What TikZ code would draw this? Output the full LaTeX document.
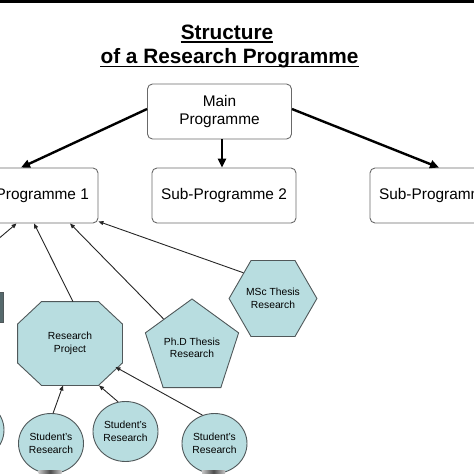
\documentclass[tikz,border=0pt]{standalone}
\usepackage{fontspec}
\setmainfont{Liberation Sans}
\usetikzlibrary{shapes.geometric,arrows.meta,calc,backgrounds}
\definecolor{shapefill}{RGB}{184,221,224}
\definecolor{shapeedge}{RGB}{80,88,90}
\definecolor{boxedge}{RGB}{105,105,105}
\definecolor{darkpart}{RGB}{85,105,108}
\begin{document}
\begin{tikzpicture}[x=1pt,y=-1pt,
  box/.style={draw=boxedge, line width=0.9pt, rounded corners=5pt, minimum width=144pt, minimum height=55pt, align=center, inner sep=0pt, font=\fontsize{15.4}{18.5}\selectfont},
  shp/.style={draw=shapeedge, fill=shapefill, line width=0.9pt, align=center, inner sep=0pt, font=\fontsize{10.3}{12.4}\selectfont},
  ttl/.style={anchor=base, inner sep=0pt, font=\fontsize{20.8}{25}\selectfont\bfseries},
  uline/.style={line width=1.4pt},
  big/.style={line width=2.4pt, -{Triangle[length=9pt,width=8pt]}},
  thin/.style={line width=0.9pt, draw=black!85, -{Triangle[length=5pt,width=4pt]}},
  strip/.style={left color=gray!45, right color=gray!45, middle color=gray!60!black, minimum width=23pt, minimum height=5pt, inner sep=0pt}]
\useasboundingbox (0,0) rectangle (474,474);
\clip (0,0) rectangle (474,474);
\fill[black] (0,0) rectangle (474,3);

% title
\node[ttl] (t1) at (227,39.3) {Structure};
\node[ttl] (t2) at (229.5,63.3) {of a Research Programme};
\draw[uline] ([yshift=-2.8pt]t1.base west) -- ([yshift=-2.8pt]t1.base east);
\draw[uline] ([yshift=-3.4pt]t2.base west) -- ([yshift=-3.4pt]t2.base east);

% boxes
\node[box, minimum width=144pt] (main) at (219.5,111.5) {Main\\Programme};
\node[box] (sp1) at (26,195.5) {Sub-Programme 1};
\node[box] (sp2) at (224,195.5) {Sub-Programme 2};
\node[box] (sp3) at (442,195.5) {Sub-Programme 3};

% research shapes
\node[shp, draw=none, fill=none, minimum width=104pt, minimum height=83pt] (rp) at (70,343.5) {Research\\Project};
\begin{scope}[on background layer]
\draw[draw=shapeedge, fill=shapefill, line width=0.9pt]
  ($(rp.north west)+(24,0)$) -- ($(rp.north east)+(-24,0)$) --
  ($(rp.north east)+(0,22.5)$) -- ($(rp.south east)+(0,-22.5)$) --
  ($(rp.south east)+(-24,0)$) -- ($(rp.south west)+(24,0)$) --
  ($(rp.south west)+(0,-22.5)$) -- ($(rp.north west)+(0,22.5)$) -- cycle;
\end{scope}
\node[shp, regular polygon, regular polygon sides=5, minimum size=82pt] (phd) at (192,348) {Ph.D Thesis\\Research};
\node[shp, regular polygon, regular polygon sides=6, minimum size=72pt] (msc) at (273,298.5) {MSc Thesis\\Research};
\node[shp, ellipse, minimum width=65pt, minimum height=60pt] (s1) at (51,443.5) {Student's\\Research};
\node[shp, ellipse, minimum width=65pt, minimum height=60pt] (s2) at (125.5,431.5) {Student's\\Research};
\node[shp, ellipse, minimum width=65pt, minimum height=60pt] (s3) at (214.5,443.5) {Student's\\Research};

% partial shapes at the edges
\node[fill=darkpart, draw=shapeedge, minimum width=30pt, minimum height=30pt, inner sep=0pt] (lp) at (-12,307) {};
\node[shp, ellipse, minimum width=64pt, minimum height=60pt] (ls) at (-28,430) {};
\node[strip] (b1) at (50,473) {};
\node[strip] (b3) at (213.5,473) {};

% thick connectors
\draw[big] ($(main.west)+(0,-2.5)$) -- ($(sp1.north)+(-5,0)$);
\draw[big] ($(main.south)+(2.5,0)$) -- ($(sp2.north)+(-2,0)$);
\draw[big] ($(main.east)+(0,-2.5)$) -- ($(sp3.north)+(-3,0)$);

% thin connectors
\coordinate (c1) at (-10,246);
\draw[thin] (c1) -- ($(sp1.south west)+(63,0)$);
\draw[thin] ($(rp.north)+(3,0)$) -- ($(sp1.south)+(8,0)$);
\draw[thin] (phd) -- ($(sp1.south)+(44,0)$);
\draw[thin] (msc.139) -- ($(sp1.south east)+(0,-2)$);
\draw[thin] (s1.86) -- ($(rp.south)+(-7,0)$);
\draw[thin] (s2.104) -- ($(rp.south)+(29,0)$);
\draw[thin] (s3.113) -- ($(rp.east)+(-7,23.5)$);
\end{tikzpicture}
\end{document}
